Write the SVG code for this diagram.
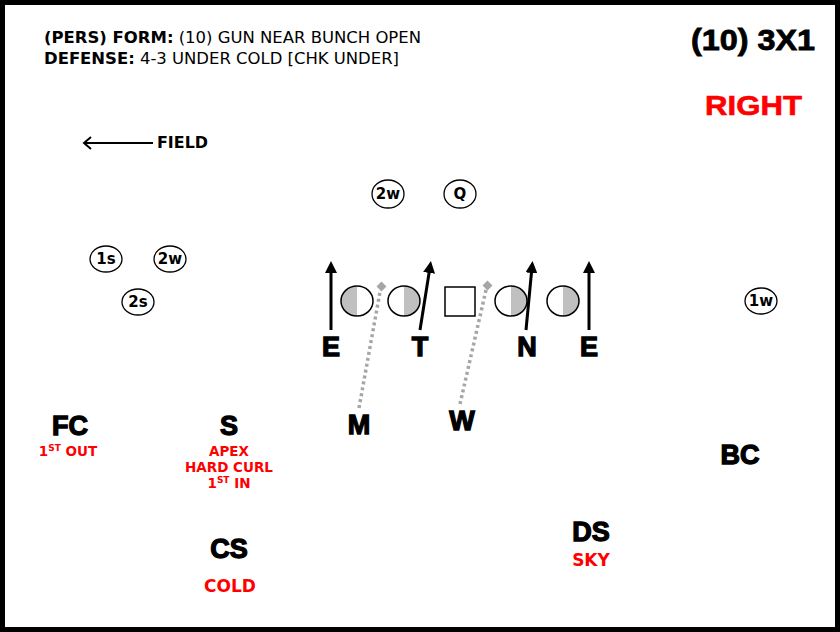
<svg xmlns="http://www.w3.org/2000/svg" width="840" height="632" viewBox="0 0 840 632">
<defs>
<style>
.hdr{font-family:"DejaVu Sans","Verdana",sans-serif;font-size:16px;fill:#000}
.b{font-weight:bold}
.big{font-family:"Liberation Sans",Arial,sans-serif;font-weight:bold;font-size:27px;fill:#000;stroke:#000;stroke-width:1.3;text-anchor:middle}
.red{font-family:"DejaVu Sans","Verdana",sans-serif;font-weight:bold;font-size:13.5px;fill:#ff0000;text-anchor:middle}
.redl{font-family:"DejaVu Sans","Verdana",sans-serif;font-weight:bold;font-size:17px;fill:#ff0000;text-anchor:middle}
.rec{fill:#fff;stroke:#000;stroke-width:1.3}
.rt{font-family:"DejaVu Sans","Verdana",sans-serif;font-weight:bold;font-size:15px;fill:#000;text-anchor:middle}
.ol{fill:none;stroke:#000;stroke-width:1.5}
.sh{fill:#c0c0c0}
.arr{stroke:#000;stroke-width:3;fill:none;marker-end:url(#ah)}
.dot{stroke:#a6a6a6;stroke-width:3.5;stroke-dasharray:3 3;fill:none}
.dia{fill:#a6a6a6}
</style>
<marker id="ah" markerWidth="4" markerHeight="4" refX="2" refY="2" orient="auto" markerUnits="strokeWidth" viewBox="0 0 4 4">
<path d="M0,0 L4,2 L0,4 Z" fill="#000"/>
</marker>
</defs>
<rect x="0" y="0" width="840" height="632" fill="#000"/>
<rect x="5" y="5" width="830" height="622" fill="#fff"/>

<g id="header">
<text class="hdr" x="44" y="43" textLength="377" lengthAdjust="spacingAndGlyphs"><tspan class="b">(PERS) FORM:</tspan> (10) GUN NEAR BUNCH OPEN</text>
<text class="hdr" x="44" y="64" textLength="355" lengthAdjust="spacingAndGlyphs"><tspan class="b">DEFENSE:</tspan> 4-3 UNDER COLD [CHK UNDER]</text>
<text x="691" y="50" font-family="Liberation Sans, Arial, sans-serif" font-weight="bold" font-size="29" fill="#000" stroke="#000" stroke-width="0.8" textLength="124" lengthAdjust="spacingAndGlyphs">(10) 3X1</text>
<text x="705" y="115" font-family="Liberation Sans, Arial, sans-serif" font-weight="bold" font-size="28" fill="#ff0000" stroke="#ff0000" stroke-width="0.6" textLength="97" lengthAdjust="spacingAndGlyphs">RIGHT</text>
</g>

<g id="field">
<line x1="84" y1="143" x2="153" y2="143" stroke="#000" stroke-width="2"/>
<path d="M91,137 L84,143 L91,149" fill="none" stroke="#000" stroke-width="2"/>
<text x="157" y="148" font-family="DejaVu Sans, Verdana, sans-serif" font-weight="bold" font-size="15" fill="#000" textLength="51" lengthAdjust="spacingAndGlyphs">FIELD</text>
</g>

<g id="receivers">
<g id="r-2w-top"><ellipse class="rec" cx="388" cy="194" rx="16" ry="14"/><text class="rt" x="388" y="199">2w</text></g>
<g id="r-q"><ellipse class="rec" cx="460" cy="194" rx="16" ry="14"/><text class="rt" x="460" y="199">Q</text></g>
<g id="r-1s"><ellipse class="rec" cx="106" cy="259" rx="16" ry="13"/><text class="rt" x="106" y="264">1s</text></g>
<g id="r-2w"><ellipse class="rec" cx="170" cy="259" rx="16" ry="13"/><text class="rt" x="170" y="264">2w</text></g>
<g id="r-2s"><ellipse class="rec" cx="138" cy="302" rx="16" ry="13"/><text class="rt" x="138" y="307">2s</text></g>
<g id="r-1w"><ellipse class="rec" cx="761" cy="301" rx="16" ry="13"/><text class="rt" x="761" y="306">1w</text></g>
</g>

<g id="oline">
<g id="ol1"><path class="sh" d="M357,286 A16,15 0 0 0 357,316 Z"/><ellipse class="ol" cx="357" cy="301" rx="16" ry="15"/></g>
<g id="ol2"><path class="sh" d="M404,286 A16,15 0 0 1 404,316 Z"/><ellipse class="ol" cx="404" cy="301" rx="16" ry="15"/></g>
<g id="center"><rect x="445" y="287" width="30" height="29" fill="#fff" stroke="#000" stroke-width="1.5"/></g>
<g id="ol4"><path class="sh" d="M511,286 A16,15 0 0 1 511,316 Z"/><ellipse class="ol" cx="511" cy="301" rx="16" ry="15"/></g>
<g id="ol5"><path class="sh" d="M563,286 A16,15 0 0 1 563,316 Z"/><ellipse class="ol" cx="563" cy="301" rx="16" ry="15"/></g>
</g>

<g id="connectors">
<line class="arr" x1="331" y1="330" x2="331" y2="267"/>
<line class="arr" x1="420" y1="330" x2="430" y2="267"/>
<line class="arr" x1="526" y1="330" x2="532" y2="267"/>
<line class="arr" x1="589" y1="330" x2="589" y2="267"/>
<line class="dot" x1="359" y1="408" x2="380" y2="292"/>
<rect class="dia" x="378" y="283" width="7" height="7" transform="rotate(45 381.5 286.5)"/>
<line class="dot" x1="460" y1="404" x2="486" y2="290"/>
<rect class="dia" x="484" y="282" width="7" height="7" transform="rotate(45 487.5 285.5)"/>
</g>

<g id="defenders">
<g id="d-e1"><text class="big" x="331" y="356">E</text></g>
<g id="d-t"><text class="big" x="420" y="356">T</text></g>
<g id="d-n"><text class="big" x="527" y="356">N</text></g>
<g id="d-e2"><text class="big" x="589" y="356">E</text></g>
<g id="d-m"><text class="big" x="359" y="434">M</text></g>
<g id="d-w"><text class="big" x="462" y="430">W</text></g>
<g id="d-fc"><text class="big" x="70" y="435">FC</text><text class="red" x="68" y="456">1<tspan font-size="9" dy="-5">ST</tspan><tspan dy="5"> OUT</tspan></text></g>
<g id="d-s"><text class="big" x="229" y="435">S</text>
<text class="red" x="229" y="456">APEX</text>
<text class="red" x="229" y="472">HARD CURL</text>
<text class="red" x="229" y="488">1<tspan font-size="9" dy="-5">ST</tspan><tspan dy="5"> IN</tspan></text></g>
<g id="d-cs"><text class="big" x="229" y="558">CS</text><text class="redl" x="230" y="592">COLD</text></g>
<g id="d-ds"><text class="big" x="591" y="541">DS</text><text class="redl" x="591" y="566">SKY</text></g>
<g id="d-bc"><text class="big" x="740" y="464">BC</text></g>
</g>
</svg>
